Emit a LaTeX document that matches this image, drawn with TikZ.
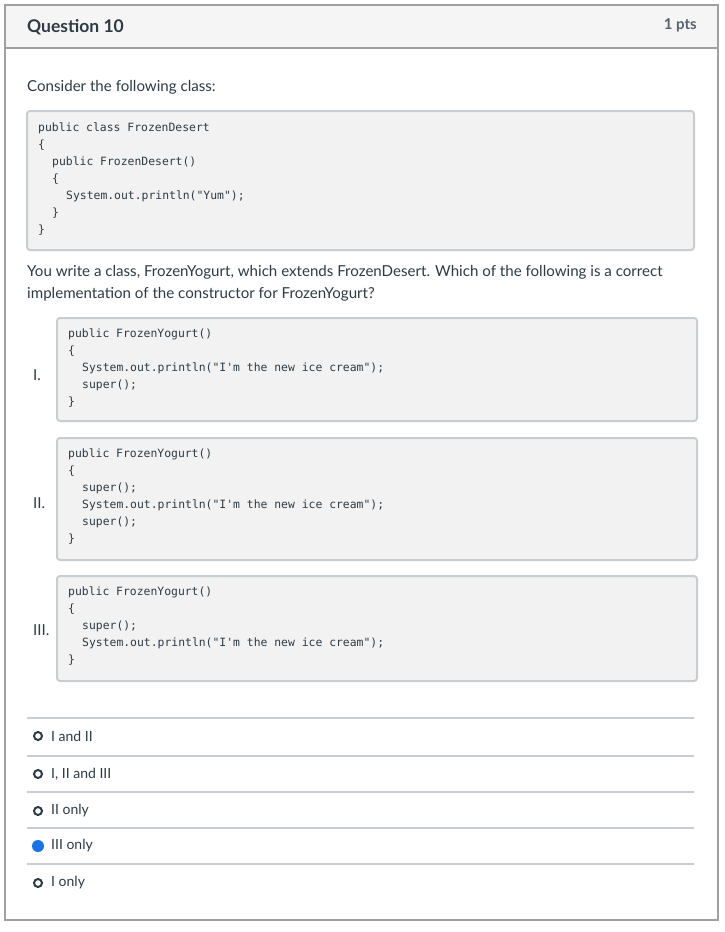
\documentclass[tikz,border=0pt]{standalone}
\usepackage{fontspec}
\setmainfont{Lato}
\setmonofont{DejaVu Sans Mono}
\definecolor{bord}{HTML}{A0A0A0}
\definecolor{hdr}{HTML}{F5F5F5}
\definecolor{codebg}{HTML}{F2F2F2}
\definecolor{codebd}{HTML}{C7CDD1}
\definecolor{txt}{HTML}{2D3B45}
\definecolor{sel}{HTML}{1A73E8}
\begin{document}
\begin{tikzpicture}[x=1pt,y=-1pt,
  codebox/.style={draw=codebd,line width=2pt,fill=codebg,rounded corners=3pt},
  code/.style={anchor=west,font=\ttfamily\fontsize{11.4}{12}\selectfont,text=txt,inner sep=0},
  body/.style={anchor=west,font=\fontsize{15.1}{17}\selectfont,text=txt,inner sep=0},
  opt/.style={anchor=west,font=\fontsize{14}{16}\selectfont,text=txt,inner sep=0},
  sep/.style={draw=codebd,line width=1.5pt},
  radio/.style={circle,draw=txt,line width=2pt,minimum size=8pt,inner sep=0}]
\useasboundingbox (0,0) rectangle (724,932);
\fill[white] (0,0) rectangle (724,932);
\draw[fill=hdr,draw=none] (5,5) rectangle (718,48);
\draw[bord,line width=1.5pt] (5,48) -- (718,48);
\draw[bord,line width=2pt] (5,5) rectangle (718,920);
\node[anchor=west,font=\bfseries\fontsize{17.5}{20}\selectfont,text=txt,inner sep=0] (q) at (27,27) {Question 10};
\node[anchor=east,font=\bfseries\fontsize{15}{17}\selectfont,text=txt!80,inner sep=0] (pts) at (697,25) {1 pts};
\node[body] (p1) at (27,87) {Consider the following class:};
\draw[codebox] (27,111) rectangle (694,250);
\node[code] (c1) at (38,128) {public class FrozenDesert};
\node[code] (c2) at (38,145) {\{};
\node[code] (c3) at (52,162) {public FrozenDesert()};
\node[code] (c4) at (52,179) {\{};
\node[code] (c5) at (66,196) {System.out.println("Yum");};
\node[code] (c6) at (52,213) {\}};
\node[code] (c7) at (38,230) {\}};
\node[body] (p2) at (27,272) {You write a class, FrozenYogurt, which extends FrozenDesert. Which of the following is a correct};
\node[body] (p3) at (27,294) {implementation of the constructor for FrozenYogurt?};
% I
\draw[codebox] (57,318) rectangle (697,421);
\node[code] (a1) at (68,334) {public FrozenYogurt()};
\node[code] (a2) at (68,351) {\{};
\node[code] (a3) at (82,368) {System.out.println("I'm the new ice cream");};
\node[code] (a4) at (82,385) {super();};
\node[code] (a5) at (68,402) {\}};
\node[body] (r1) at (33,375) {I.};
% II
\draw[codebox] (57,438) rectangle (697,560);
\node[code] (b1) at (68,454) {public FrozenYogurt()};
\node[code] (b2) at (68,471) {\{};
\node[code] (b3) at (82,488) {super();};
\node[code] (b4) at (82,505) {System.out.println("I'm the new ice cream");};
\node[code] (b5) at (82,522) {super();};
\node[code] (b6) at (68,539) {\}};
\node[body] (r2) at (33,503) {II.};
% III
\draw[codebox] (57,576) rectangle (697,681);
\node[code] (d1) at (68,592) {public FrozenYogurt()};
\node[code] (d2) at (68,609) {\{};
\node[code] (d3) at (82,626) {super();};
\node[code] (d4) at (82,643) {System.out.println("I'm the new ice cream");};
\node[code] (d5) at (68,660) {\}};
\node[body] (r3) at (33,630) {III.};
% options
\foreach \y in {718,756,792,828,864} \draw[sep] (27,\y) -- (694,\y);
\node[radio] (o1) at (38,736) {};
\node[opt] (t1) at (51,736) {I and II};
\node[radio] (o2) at (38,774) {};
\node[opt] (t2) at (51,774) {I, II and III};
\node[radio] (o3) at (38,811) {};
\node[opt] (t3) at (51,811) {II only};
\node[circle,fill=sel,minimum size=12pt,inner sep=0] (o4) at (38,846) {};
\node[opt] (t4) at (51,846) {III only};
\node[radio] (o5) at (38,883) {};
\node[opt] (t5) at (51,883) {I only};
\end{tikzpicture}
\end{document}
